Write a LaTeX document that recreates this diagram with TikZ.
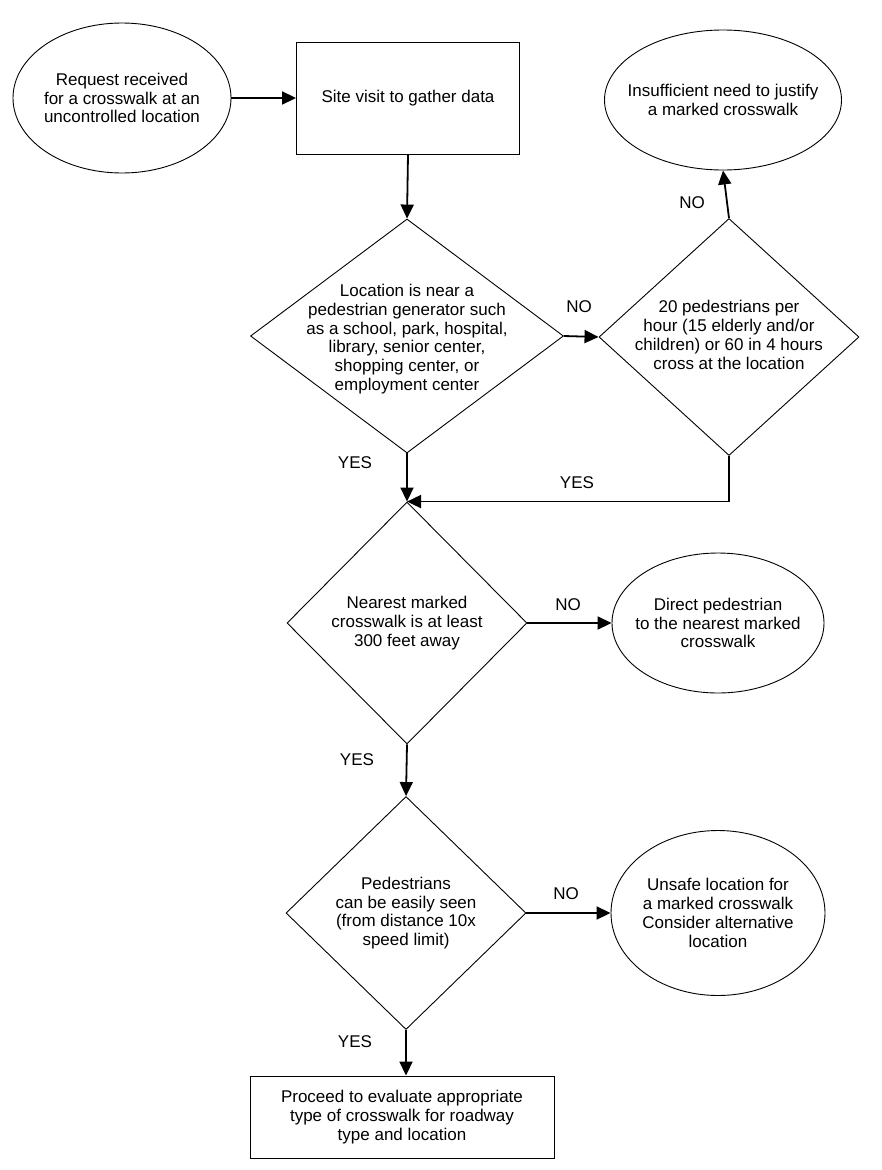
\documentclass[tikz,border=0pt]{standalone}
\usepackage{fontspec}
\setmainfont{Liberation Sans}
\usetikzlibrary{shapes.geometric,arrows.meta}
\begin{document}
\begin{tikzpicture}[x=1pt,y=-1pt,
  every node/.style={font=\fontsize{17}{18.8}\selectfont},
  shp/.style={draw=black, line width=0.9pt},
  oval/.style={shp, ellipse, inner sep=0pt},
  dia/.style={shp, diamond, inner sep=0pt},
  box/.style={shp, rectangle, inner sep=0pt, align=center},
  txt/.style={align=center, inner sep=0pt},
  lbl/.style={inner sep=0pt},
  conn/.style={line width=1.8pt, -{Triangle[length=14pt,width=13pt]}},
]
\useasboundingbox (0,0) rectangle (882,1170);

% start ellipse and first box
\node[oval, minimum width=218pt, minimum height=150pt] (e1) at (122,98) {};
\node[txt] (t1) at (e1) {Request received\\for a crosswalk at an\\uncontrolled location};
\node[box, minimum width=223pt, minimum height=112pt] (r1) at (408,98) {Site visit to gather data};

% first decision
\node[dia, minimum width=313pt, minimum height=234pt] (d1) at (407,336) {};
\node[txt] (t2) at (407,339) {Location is near a\\pedestrian generator such\\as a school, park, hospital,\\library, senior center,\\shopping center, or\\employment center};

% second decision
\node[dia, minimum width=260pt, minimum height=237pt] (d2) at (729,337) {};
\node[txt] (t3) at (729,335) {20 pedestrians per\\hour (15 elderly and/or\\children) or 60 in 4 hours\\cross at the location};

\node[oval, minimum width=237pt, minimum height=140pt] (e2) at (723,100) {};
\node[txt] (t4) at (e2) {Insufficient need to justify\\a marked crosswalk};

% third decision
\node[dia, minimum width=240pt, minimum height=242pt] (d3) at (407,623) {};
\node[txt] (t5) at (d3) {Nearest marked\\crosswalk is at least\\300 feet away};
\node[oval, minimum width=212pt, minimum height=140pt] (e3) at (718,623) {};
\node[txt] (t6) at (e3) {Direct pedestrian\\to the nearest marked\\crosswalk};

% fourth decision
\node[dia, minimum width=240pt, minimum height=233pt] (d4) at (406,913) {};
\node[txt] (t7) at (d4) {Pedestrians\\can be easily seen\\(from distance 10x\\speed limit)};
\node[oval, minimum width=214pt, minimum height=165pt] (e4) at (718,913) {};
\node[txt] (t8) at (e4) {Unsafe location for\\a marked crosswalk\\Consider alternative\\location};

% final box
\node[box, minimum width=304pt, minimum height=82pt] (r2) at (402,1117) {Proceed to evaluate appropriate\\type of crosswalk for roadway\\type and location};

% connectors
\draw[conn] (e1.east) -- (r1.west);
\draw[conn] (r1.south) -- (d1.north);
\draw[conn] (d1.east) -- (d2.west);
\draw[conn] (d2.north) -- (e2.south);
\draw[conn] (d1.south) -- (d3.north);
\draw[conn] (d2.south) |- (d3.north);
\draw[conn] (d3.east) -- (e3.west);
\draw[conn] (d3.south) -- (d4.north);
\draw[conn] (d4.east) -- (e4.west);
\draw[conn] (d4.south) -- (d4.south |- r2.north);

% labels
\node[lbl] (l1) at (579,307) {NO};
\node[lbl] (l2) at (692,203) {NO};
\node[lbl] (l3) at (355,463) {YES};
\node[lbl] (l4) at (577,483) {YES};
\node[lbl] (l5) at (568,605) {NO};
\node[lbl] (l6) at (357,760) {YES};
\node[lbl] (l7) at (566,894) {NO};
\node[lbl] (l8) at (355,1042) {YES};
\end{tikzpicture}
\end{document}
